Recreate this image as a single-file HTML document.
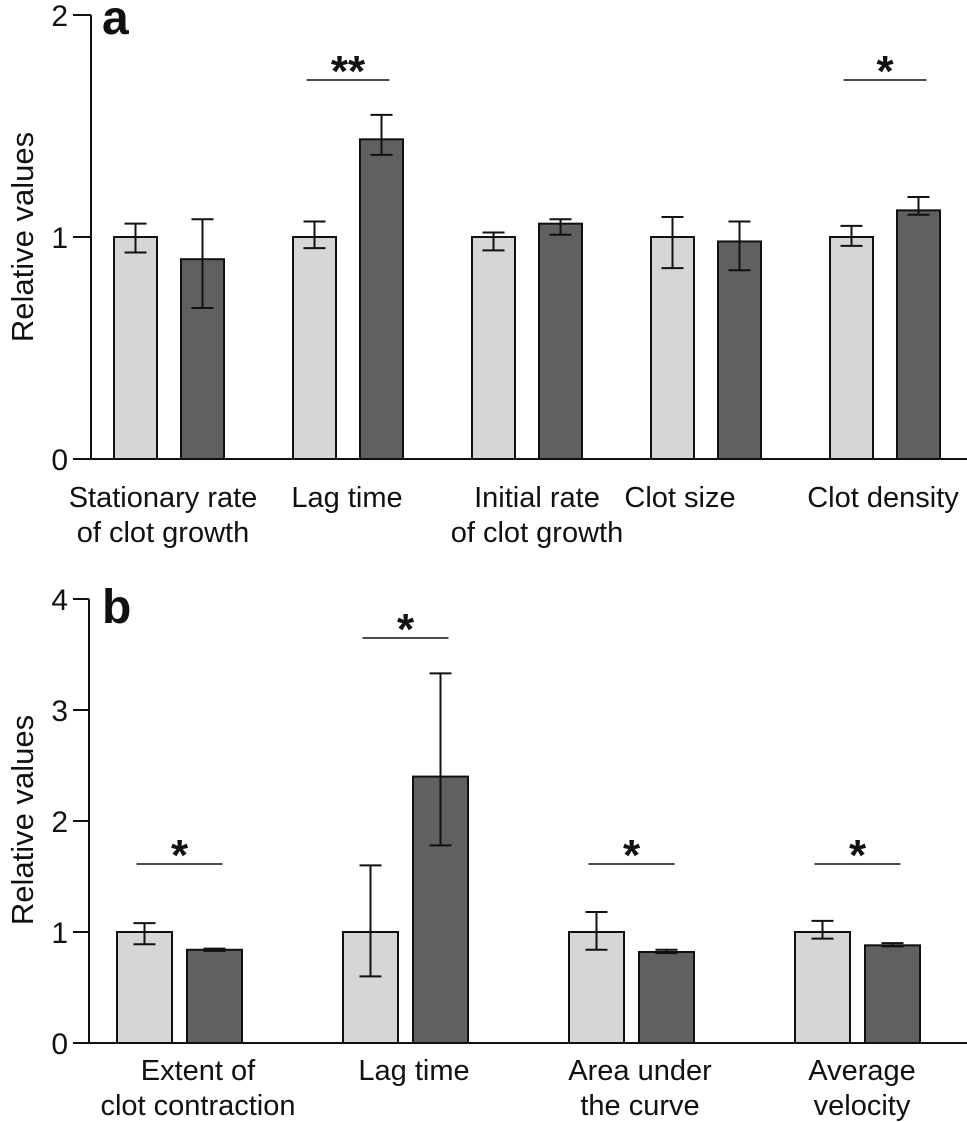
<!DOCTYPE html>
<html><head><meta charset="utf-8"><style>
html,body{margin:0;padding:0;background:#fff;}
svg{display:block;font-family:"Liberation Sans",sans-serif;}
</style></head><body>
<svg id="chart" width="967" height="1122" viewBox="0 0 967 1122" xmlns="http://www.w3.org/2000/svg"></svg>
<script>
// Panel a data
const catsA = [["Stationary rate","of clot growth"],["Lag time"],["Initial rate","of clot growth"],["Clot size"],["Clot density"]];
const ctrlA = [1.0, 1.0, 1.0, 1.0, 1.0];
const ctrlAHi = [1.06, 1.07, 1.02, 1.09, 1.05];
const ctrlALo = [0.93, 0.95, 0.94, 0.86, 0.96];
const trtA = [0.90, 1.44, 1.06, 0.98, 1.12];
const trtAHi = [1.08, 1.55, 1.08, 1.07, 1.18];
const trtALo = [0.68, 1.37, 1.01, 0.85, 1.10];
const sigA = ["", "**", "", "", "*"];
const ticksA = [0, 1, 2];
// Panel b data
const catsB = [["Extent of","clot contraction"],["Lag time"],["Area under","the curve"],["Average","velocity"]];
const ctrlB = [1.0, 1.0, 1.0, 1.0];
const ctrlBHi = [1.08, 1.6, 1.18, 1.10];
const ctrlBLo = [0.89, 0.6, 0.84, 0.94];
const trtB = [0.84, 2.4, 0.82, 0.88];
const trtBHi = [0.85, 3.33, 0.84, 0.90];
const trtBLo = [0.83, 1.78, 0.81, 0.87];
const sigB = ["*", "*", "*", "*"];
const ticksB = [0, 1, 2, 3, 4];

const svg = document.getElementById('chart');
const NS = 'http://www.w3.org/2000/svg';
function mk(tag, attrs, parent){const e=document.createElementNS(NS,tag);for(const k in attrs)e.setAttribute(k,attrs[k]);(parent||svg).appendChild(e);return e;}

function panel(cfg){
  const g = mk('g',{});
  
  
  const y = v => cfg.y0 - v*(cfg.y0-cfg.yTop)/cfg.max;
  const xL = i => cfg.firstX + i*cfg.step;
  const ax = mk('line',{x1:cfg.axX,y1:y(cfg.max),x2:cfg.axX,y2:cfg.y0,stroke:'#111','stroke-width':2},g);
  
  
  const base = mk('line',{x1:73,y1:cfg.y0,x2:967,y2:cfg.y0,stroke:'#111','stroke-width':2},g);
  
  
  cfg.ticks.forEach(t=>{
    const tl = mk('line',{x1:73,y1:y(t),x2:cfg.axX,y2:y(t),stroke:'#111','stroke-width':2},g);
    
    
    const tx = mk('text',{x:68,y:y(t)+11,'text-anchor':'end','font-size':30,fill:'#111'},g);
    tx.textContent = t;
    
    
  });
  const yt = mk('text',{x:0,y:0,transform:`translate(33,${cfg.titleY}) rotate(-90)`,'text-anchor':'middle','font-size':31,fill:'#111'},g);
  yt.textContent = 'Relative values';
  
  
  const lt = mk('text',{x:102,y:cfg.letterY,'font-size':48,'font-weight':'bold',fill:'#111'},g);
  lt.textContent = cfg.letter;
  
  
  cfg.cats.forEach((c,i)=>{
    const x1 = xL(i), x2 = x1 + cfg.gap;
    [[x1,cfg.ctrl[i],cfg.ctrlHi[i],cfg.ctrlLo[i],'#d6d6d6','control'],[x2,cfg.trt[i],cfg.trtHi[i],cfg.trtLo[i],'#606060','treated']].forEach(([bx,v,hi,lo,col,nm])=>{
      const r = mk('rect',{x:bx,y:y(v),width:cfg.bw,height:cfg.y0-y(v),fill:col,stroke:'#111','stroke-width':2},g);
      
      
      const cx = bx + cfg.bw/2;
      const eb = mk('path',{d:`M${cx},${y(hi)}V${y(lo)}M${cx-11},${y(hi)}H${cx+11}M${cx-11},${y(lo)}H${cx+11}`,stroke:'#111','stroke-width':2,fill:'none'},g);
      
      
    });
    const cx = (x1 + x2 + cfg.bw)/2;
    if(cfg.sig[i]){
      const sl = mk('line',{x1:x1+cfg.bw/2-8,y1:cfg.sigY[i],x2:x2+cfg.bw/2+8,y2:cfg.sigY[i],stroke:'#111','stroke-width':1.5},g);
      
      
      const st = mk('text',{x:cx,y:cfg.sigY[i]+6,'text-anchor':'middle','font-size':44,'font-weight':'bold',fill:'#111'},g);
      st.textContent = cfg.sig[i];
      
      
    }
    c.forEach((line,j)=>{
      const t = mk('text',{x:cfg.labelX[i],y:cfg.labelY+j*35,'text-anchor':'middle','font-size':29,fill:'#111'},g);
      t.textContent = line;
      
      
    });
  });
}
panel({name:'panel-a',letter:'a',letterY:34,y0:459,yTop:15,max:2,axX:91,ticks:ticksA,titleY:237,
  cats:catsA,ctrl:ctrlA,ctrlHi:ctrlAHi,ctrlLo:ctrlALo,trt:trtA,trtHi:trtAHi,trtLo:trtALo,sig:sigA,
  firstX:114,step:179,gap:67,bw:43,sigY:[80,80,80,80,80],
  labelX:[163,347,537,680,883],labelY:507});
panel({name:'panel-b',letter:'b',letterY:623,y0:1043,yTop:599,max:4,axX:89,ticks:ticksB,titleY:820,
  cats:catsB,ctrl:ctrlB,ctrlHi:ctrlBHi,ctrlLo:ctrlBLo,trt:trtB,trtHi:trtBHi,trtLo:trtBLo,sig:sigB,
  firstX:117,step:226,gap:70,bw:55,sigY:[864,638,864,864],
  labelX:[198,414,640,862],labelY:1080});
</script>
</body></html>
